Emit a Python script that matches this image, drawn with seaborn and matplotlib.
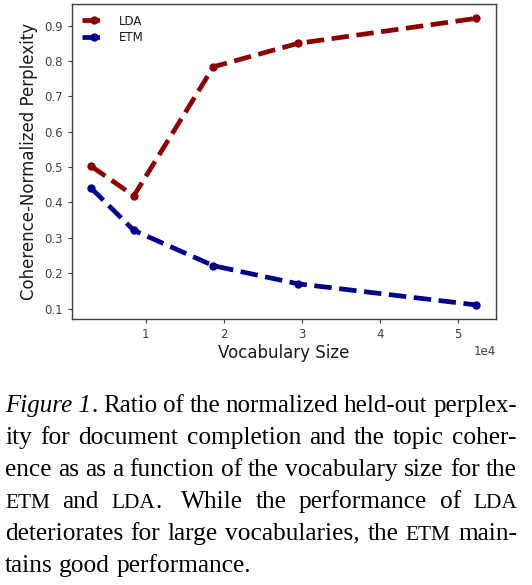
import matplotlib
matplotlib.use("Agg")
import matplotlib.pyplot as plt
import seaborn as sns
import pandas as pd

# ---- data ----
vocab_sizes = [3000, 8500, 18700, 29500, 52400]
lda_values = [0.503, 0.419, 0.784, 0.850, 0.921]
etm_values = [0.441, 0.321, 0.221, 0.170, 0.110]
models = ["LDA", "ETM"]
colors = {"LDA": "#8B0000", "ETM": "#00008B"}

caption_lines = [
    [[("Figure 1", "i"), (".", "n")], [("Ratio", "n")], [("of", "n")], [("the", "n")],
     [("normalized", "n")], [("held-out", "n")], [("perplex-", "n")]],
    [[(w, "n")] for w in "ity for document completion and the topic coher-".split()],
    [[(w, "n")] for w in "ence as as a function of the vocabulary size for the".split()],
    [[("ETM", "sc")], [("and", "n")], [("LDA", "sc"), (".", "n")], [("While", "n")],
     [("the", "n")], [("performance", "n")], [("of", "n")], [("LDA", "sc")]],
    [[("deteriorates", "n")], [("for", "n")], [("large", "n")], [("vocabularies,", "n")],
     [("the", "n")], [("ETM", "sc")], [("main-", "n")]],
    [[(w, "n")] for w in "tains good performance.".split()],
]

df = pd.DataFrame({
    "Vocabulary Size": vocab_sizes * 2,
    "value": lda_values + etm_values,
    "model": ["LDA"] * len(vocab_sizes) + ["ETM"] * len(vocab_sizes),
})

sns.set_style("ticks", {"axes.edgecolor": ".25", "xtick.color": ".25", "ytick.color": ".25",
                        "text.color": ".1", "axes.labelcolor": ".1"})
plt.rcParams["font.family"] = ["DejaVu Sans"]
plt.rcParams["xtick.major.size"] = 3
plt.rcParams["ytick.major.size"] = 3
plt.rcParams["axes.linewidth"] = 1.0

W, H = 532, 585
fig = plt.figure(figsize=(W / 100, H / 100), dpi=100)
ax = fig.add_axes([71.7 / W, 1 - 319.3 / H, (495.7 - 71.7) / W, (319.3 - 4) / H])

sns.lineplot(data=df, x="Vocabulary Size", y="value", hue="model", hue_order=models,
             palette=colors, marker="o", linestyle="--", linewidth=3.4, markersize=6,
             legend=False, ax=ax)
for ln, m in zip(ax.lines, models):
    ln.set_markeredgecolor(colors[m])
    ln.set_markeredgewidth(0)
    ln.set_label(m)

ax.ticklabel_format(axis="x", style="sci", scilimits=(0, 0))
ax.set_xticks([10000, 20000, 30000, 40000, 50000])
ax.set_yticks([0.1, 0.2, 0.3, 0.4, 0.5, 0.6, 0.7, 0.8, 0.9])
ax.tick_params(labelsize=8.5)
ax.xaxis.get_offset_text().set_fontsize(8.5)
ax.set_xlabel("Vocabulary Size", fontsize=12, labelpad=2)
ax.set_ylabel("Coherence-Normalized Perplexity", fontsize=12, labelpad=4)
ax.legend(handles=ax.lines, labels=models, loc="upper left", frameon=False, fontsize=8.5,
          labelspacing=0.3, handletextpad=1.1)

# ---- caption (justified) ----
fs = 18.3
fig.canvas.draw()
renderer = fig.canvas.get_renderer()
x_left, x_right = 5.0, 517.0
baselines = [412.3, 444.2, 476.1, 508.0, 539.9, 571.8]


def make(txt, kind, scale=1.0):
    size = (fs * 0.84 if kind == "sc" else fs) * scale
    style = "italic" if kind == "i" else "normal"
    return fig.text(0, 0, txt, fontsize=size, fontstyle=style, family="Liberation Serif",
                    color="black", va="baseline", ha="left")


tmp = make("a a", "n")
tmp2 = make("aa", "n")
space_w = tmp.get_window_extent(renderer).width - tmp2.get_window_extent(renderer).width
tmp.remove(); tmp2.remove()

for li, (line, yb) in enumerate(zip(caption_lines, baselines)):
    n_gaps = len(line) - 1
    weights = [1.0] * n_gaps
    if li == 3:
        weights[2] = 1.6
    scale = 1.0
    for _ in range(6):
        words = []
        for word in line:
            parts = []
            for txt, kind in word:
                t = make(txt, kind, scale)
                parts.append((t, t.get_window_extent(renderer).width))
            words.append(parts)
        widths = [sum(w for _, w in parts) for parts in words]
        if li == len(caption_lines) - 1:
            gap_unit = space_w
            break
        gap_unit = (x_right - x_left - sum(widths)) / sum(weights)
        if gap_unit >= 0.75 * space_w:
            break
        for parts in words:
            for t, _ in parts:
                t.remove()
        scale *= 0.985
    x = x_left
    for wi, parts in enumerate(words):
        for t, w in parts:
            t.set_position((x / W, 1 - yb / H))
            x += w
        if wi < n_gaps:
            x += gap_unit * weights[wi]

fig.savefig("out.png", dpi=100)
